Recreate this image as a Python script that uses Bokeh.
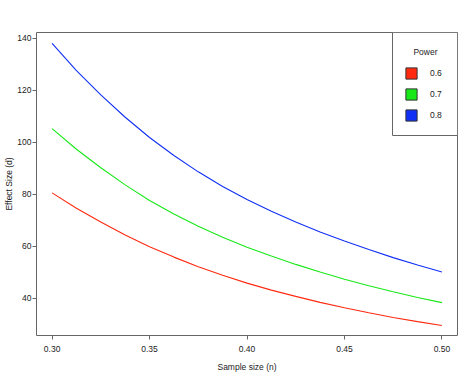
from bokeh.plotting import figure
from bokeh.models import (Range1d, FixedTicker, PrintfTickFormatter, Legend, LegendItem,
                          BoxAnnotation, Label)
from bokeh.embed import file_html
from bokeh.resources import INLINE

# ---- data ----
sample_size = [0.3000, 0.3125, 0.3250, 0.3375, 0.3500, 0.3625, 0.3750, 0.3875, 0.4000,
               0.4125, 0.4250, 0.4375, 0.4500, 0.4625, 0.4750, 0.4875, 0.5000]
effect_p06 = [80.5, 74.6, 69.3, 64.3, 59.8, 55.8, 52.1, 48.8, 45.8,
              43.1, 40.7, 38.4, 36.3, 34.4, 32.6, 31.0, 29.5]
effect_p07 = [105.2, 97.3, 90.2, 83.6, 77.6, 72.4, 67.7, 63.4, 59.6,
              56.2, 53.0, 50.1, 47.3, 44.8, 42.5, 40.3, 38.3]
effect_p08 = [138.0, 127.5, 118.2, 109.6, 101.8, 94.9, 88.6, 83.0, 78.0,
              73.4, 69.3, 65.5, 62.0, 58.7, 55.6, 52.8, 50.1]
power_labels = ["0.6", "0.7", "0.8"]
x_ticks = [0.30, 0.35, 0.40, 0.45, 0.50]
y_ticks = [40, 60, 80, 100, 120, 140]

colors = ["#ff2a10", "#18e818", "#1030f5"]
FONT = "Liberation Sans"
FS = "8.5px"
GRAY = "#666666"
TXT = "#222222"

p = figure(width=474, height=379, output_backend="svg", toolbar_location=None,
           x_range=Range1d(0.292, 0.508), y_range=Range1d(25.65, 142.2),
           min_border_left=36, min_border_right=17, min_border_top=32, min_border_bottom=44,
           x_axis_label="Sample size (n)", y_axis_label="Effect Size (d)")
p.grid.visible = False
p.outline_line_color = GRAY
p.outline_line_width = 1
p.background_fill_color = "white"
p.border_fill_color = "white"

for ax in (p.xaxis[0], p.yaxis[0]):
    ax.axis_line_color = None
    ax.major_tick_line_color = GRAY
    ax.major_tick_out = 4
    ax.major_tick_in = 0
    ax.minor_tick_line_color = None
    ax.major_label_text_font = FONT
    ax.major_label_text_font_size = FS
    ax.major_label_text_color = TXT
    ax.axis_label_text_font = FONT
    ax.axis_label_text_font_size = FS
    ax.axis_label_text_font_style = "normal"
    ax.axis_label_text_color = TXT

p.xaxis.ticker = FixedTicker(ticks=x_ticks)
p.xaxis.formatter = PrintfTickFormatter(format="%.2f")
p.xaxis.major_label_standoff = 6
p.xaxis.axis_label_standoff = 7
p.yaxis.ticker = FixedTicker(ticks=y_ticks)
p.yaxis.major_label_orientation = "horizontal"
p.yaxis.major_label_standoff = 1
p.yaxis.axis_label_standoff = 0

series = [effect_p06, effect_p07, effect_p08]
for ys, c in zip(series, colors):
    p.line(sample_size, ys, line_color=c, line_width=1.1)

# legend frame
box = BoxAnnotation(left=356, right=421, top=303, bottom=200,
                    left_units="screen", right_units="screen",
                    top_units="screen", bottom_units="screen",
                    fill_color="white", fill_alpha=1.0,
                    line_color=GRAY, line_width=1, line_alpha=1.0)
p.add_layout(box)

nan = float("nan")
items = []
for lab, c in zip(power_labels, colors):
    r = p.quad(left=[nan], right=[nan], top=[nan], bottom=[nan], fill_color=c,
               line_color="#333333", line_width=1)
    items.append(LegendItem(label=lab, renderers=[r]))

legend = Legend(items=items, location=(368, 213), padding=0, margin=0, spacing=7,
                glyph_width=14, glyph_height=14, label_height=14, label_width=16,
                label_standoff=12, label_text_font=FONT, label_text_font_size=FS,
                label_text_color=TXT, border_line_color=None, background_fill_alpha=0)
p.add_layout(legend)

title = Label(x=389, y=284, x_units="screen", y_units="screen", text="Power",
              text_align="center", text_baseline="middle", text_font=FONT,
              text_font_size=FS, text_color=TXT)
p.add_layout(title)

open("out.html", "w").write(file_html(p, INLINE))
